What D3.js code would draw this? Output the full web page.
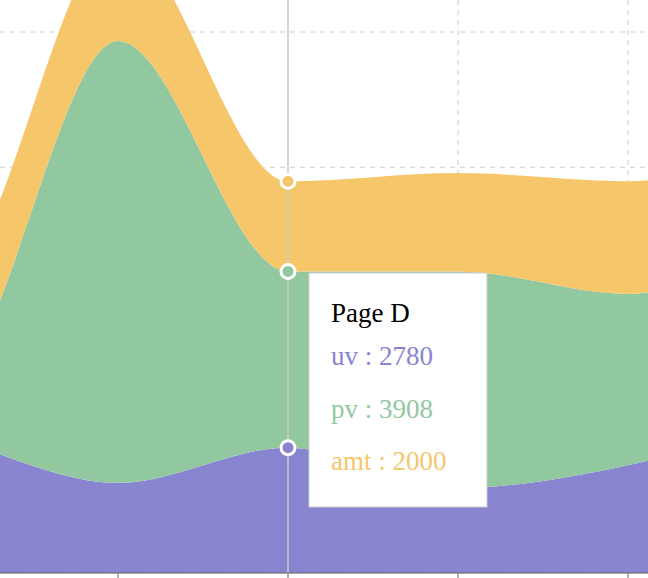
<!DOCTYPE html>
<html><head><meta charset="utf-8">
<script src="https://cdn.jsdelivr.net/npm/d3@7"></script>
<style>body{margin:0;overflow:hidden;background:#fff}</style>
</head><body>
<svg id="chart" width="648" height="578"></svg>
<script>
const pages = ['Page A','Page B','Page C','Page D','Page E','Page F','Page G']
const uv = [4000, 3000, 2000, 2780, 1890, 2390, 3490]
const pv = [2400, 1398, 9800, 3908, 4800, 3800, 4300]
const amt = [2400, 2210, 2290, 2000, 2181, 2500, 2100]
const yTicks = [0, 3000, 6000, 9000, 12000]
const active = 3

const series = [
  {key: 'uv', values: uv, color: '#8884d0'},
  {key: 'pv', values: pv, color: '#92c8a0'},
  {key: 'amt', values: amt, color: '#f6c66a'}
]

const svg = d3.select('#chart')
// plot is a crop of a wider chart: Page C sits at x=118, 170px per page
const x = d3.scalePoint().domain(pages).range([118 - 2 * 170, 118 + 4 * 170])
const y = d3.scaleLinear().domain([0, 12000]).range([573, 32])

// grid
svg.append('g').selectAll('line.h').data(yTicks).join('line')
  .attr('x1', 0).attr('x2', 648).attr('y1', d => y(d)).attr('y2', d => y(d))
  .attr('stroke', '#ccc').attr('stroke-dasharray', '5,5')
svg.append('g').selectAll('line.v').data(pages).join('line')
  .attr('x1', d => x(d)).attr('x2', d => x(d)).attr('y1', 0).attr('y2', 573)
  .attr('stroke', '#ccc').attr('stroke-dasharray', '5,5')

// stacks
const rows = pages.map((p, i) => ({page: p, uv: uv[i], pv: pv[i], amt: amt[i]}))
const stacked = d3.stack().keys(series.map(s => s.key))(rows)
const area = d3.area().curve(d3.curveMonotoneX)
  .x(d => x(d.data.page)).y0(d => y(d[0])).y1(d => y(d[1]))
svg.append('g').selectAll('path').data(stacked).join('path')
  .attr('d', area).attr('fill', (d, i) => series[i].color)

// cursor
svg.append('line').attr('x1', x(pages[active])).attr('x2', x(pages[active]))
  .attr('y1', 0).attr('y2', 573).attr('stroke', '#ccc').attr('stroke-width', 1.5)

// axis
svg.append('line').attr('x1', 0).attr('x2', 648).attr('y1', 573).attr('y2', 573).attr('stroke', '#666')
svg.append('g').selectAll('line').data(pages).join('line')
  .attr('x1', d => x(d)).attr('x2', d => x(d)).attr('y1', 573).attr('y2', 579).attr('stroke', '#666')

// active dots
svg.append('g').selectAll('circle').data(stacked).join('circle')
  .attr('cx', x(pages[active])).attr('cy', d => y(d[active][1])).attr('r', 7)
  .attr('fill', (d, i) => series[i].color).attr('stroke', '#fff').attr('stroke-width', 3)

// tooltip
const tip = svg.append('g').attr('transform', 'translate(309,273)')
tip.append('rect').attr('width', 178).attr('height', 234).attr('fill', '#fff').attr('stroke', '#ccc')
tip.append('text').attr('x', 22).attr('y', 49).text(pages[active])
  .attr('font-family', 'Liberation Serif, serif').attr('font-size', 27).attr('fill', '#000')
tip.selectAll('text.item').data(series).join('text').attr('class', 'item')
  .attr('x', 22).attr('y', (d, i) => 92 + i * 52.5)
  .attr('font-family', 'Liberation Serif, serif').attr('font-size', 27)
  .attr('fill', d => d.color).text(d => d.key + ' : ' + d.values[active])
</script>
</body></html>
